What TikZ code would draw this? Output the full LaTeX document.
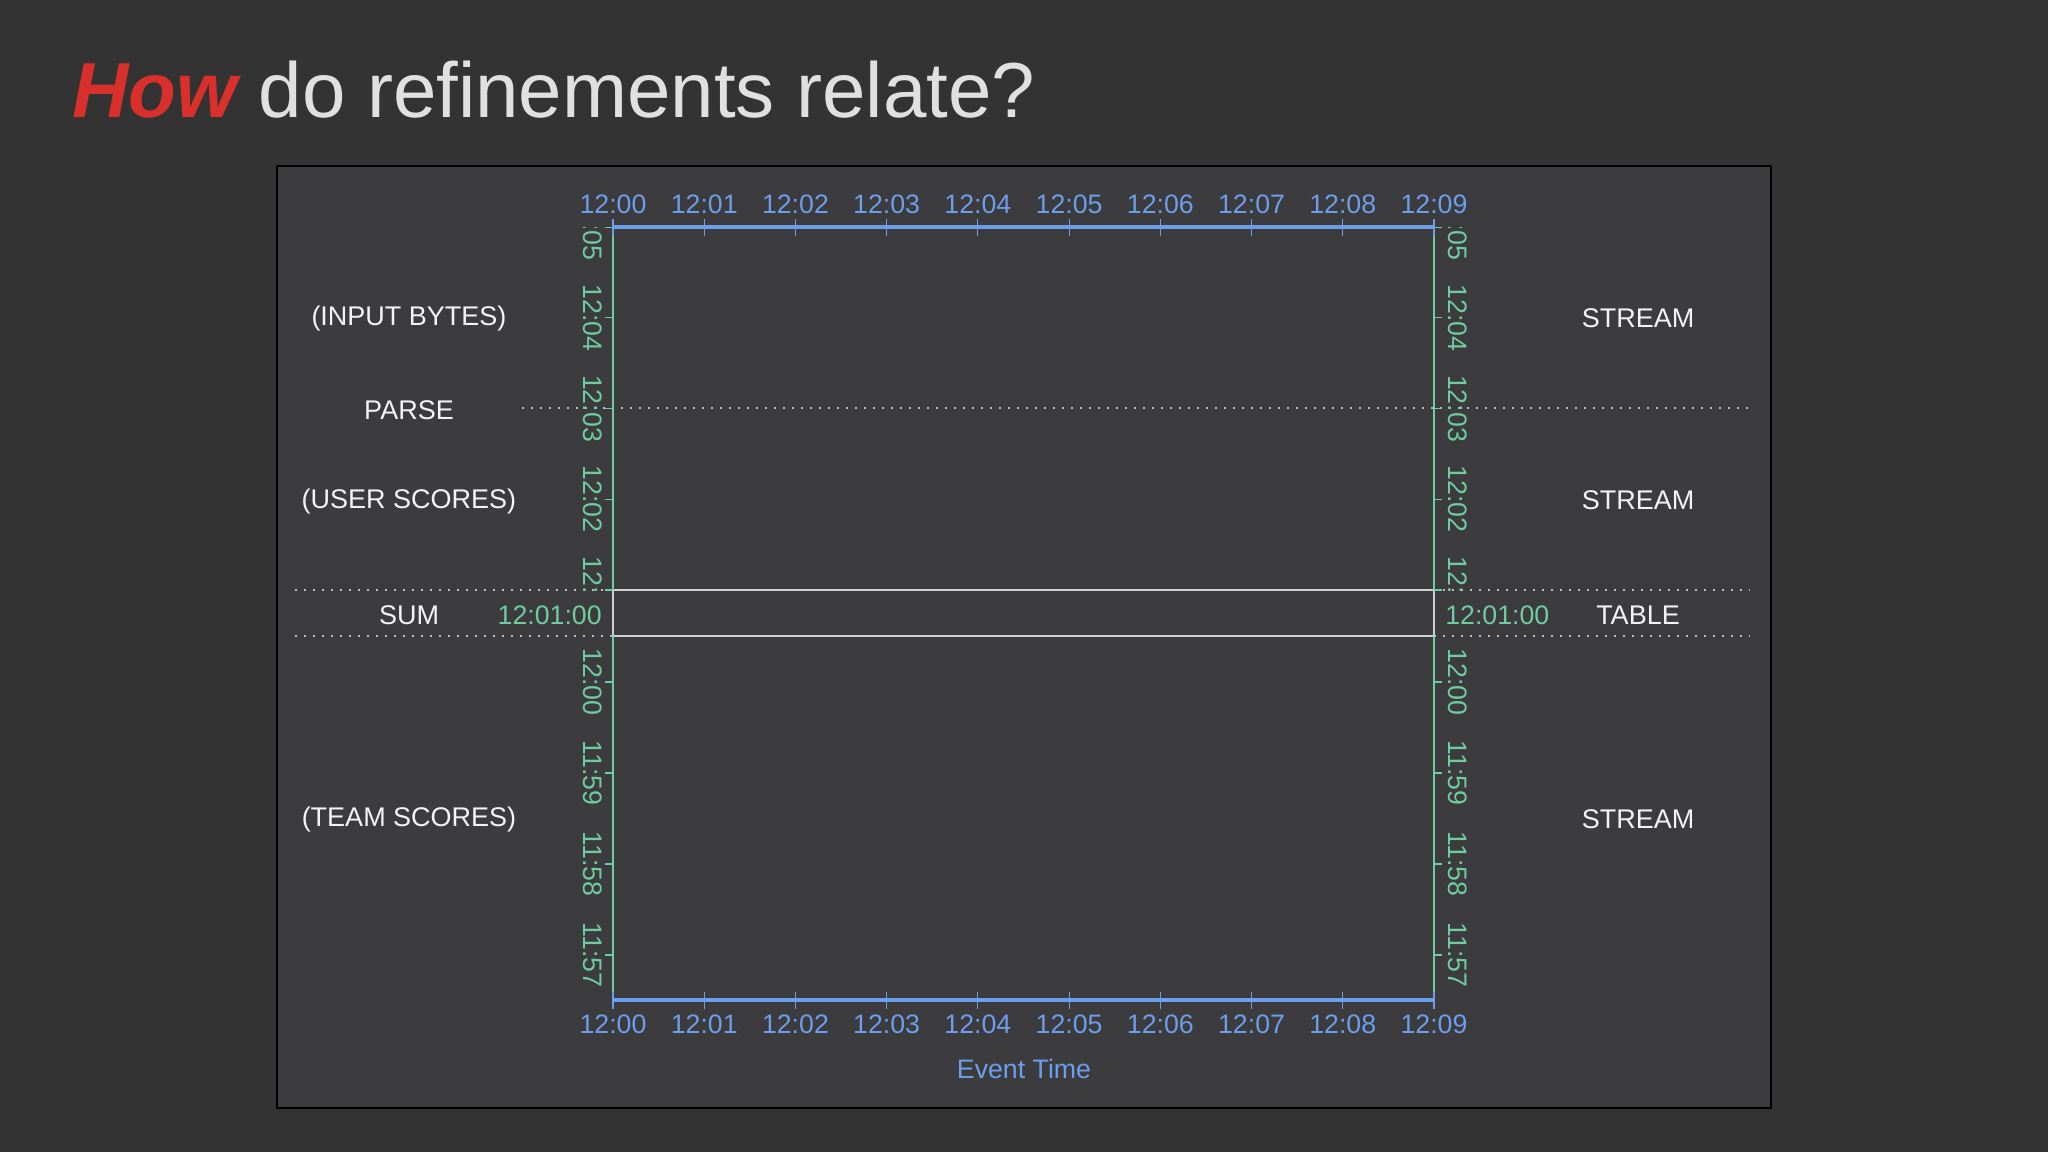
\documentclass[tikz,border=0pt]{standalone}
\usepackage{fontspec}
\setmainfont{Liberation Sans}

\definecolor{bgdark}{HTML}{333333}
\definecolor{panelgray}{HTML}{3C3B3D}
\definecolor{axisblue}{HTML}{6D9EEB}
\definecolor{axisgreen}{HTML}{6FCBA0}
\definecolor{howred}{HTML}{D9302C}
\definecolor{titlegray}{HTML}{E0E0E0}
\definecolor{labelwhite}{HTML}{F3F3F3}
\definecolor{dotgray}{HTML}{BDBDBD}
\definecolor{boxgray}{HTML}{CFCFCF}

\begin{document}
\begin{tikzpicture}[x=0.025cm, y=-0.025cm,
  lbl/.style={text=labelwhite, font=\fontsize{19.2}{22}\selectfont, inner sep=0pt, text height=0.72em, text depth=0pt},
  tick/.style={font=\fontsize{19}{22}\selectfont, inner sep=0pt, text height=0.72em, text depth=0pt},
  xtick/.style={tick, text=axisblue},
  ytick/.style={tick, text=axisgreen, rotate=-90},
  dots/.style={dotgray, line width=1.4pt, dash pattern=on 1.4pt off 5pt},
  xaxis/.style={axisblue, line width=3.5pt},
  yaxis/.style={axisgreen, line width=1.8pt}]
  % Background and panel
  \fill[bgdark] (0,0) rectangle (2048,1152);
  \draw[fill=panelgray, draw=black, line width=2pt] (277,166) rectangle (1771,1108);
  \node[anchor=base west, inner sep=0pt, text=titlegray, font=\fontsize{55.5}{60}\selectfont] (title) at (72,117)
    {\textcolor{howred}{\bfseries\itshape How} do refinements relate?};
  % Corners
  \coordinate (tl) at (613,227);
  \coordinate (tr) at (1434,227);
  \coordinate (bl) at (613,1000);
  \coordinate (br) at (1434,1000);
  \coordinate (sumtl) at (613,590);
  \coordinate (sumtr) at (1434,590);
  \coordinate (sumbl) at (613,636);
  \coordinate (sumbr) at (1434,636);
  % Separators
  \draw[dots] (522,408) -- (1750,408);
  \draw[dots] (295,590) -- (sumtl);
  \draw[dots] (sumtr) -- (1750,590);
  \draw[dots] (295,636) -- (sumbl);
  \draw[dots] (sumbr) -- (1750,636);
  \draw[boxgray, line width=0.9pt] (sumtl) rectangle (sumbr);
  % Row labels
  \node[lbl] (inbytes) at (409,320) {(INPUT BYTES)};
  \node[lbl] (parse) at (409,414) {PARSE};
  \node[lbl] (userscores) at (409,503) {(USER SCORES)};
  \node[lbl] (sum) at (409,619) {SUM};
  \node[lbl] (teamscores) at (409,821) {(TEAM SCORES)};
  \node[lbl] (stream1) at (1638,322) {STREAM};
  \node[lbl] (stream2) at (1638,504) {STREAM};
  \node[lbl] (table) at (1638,619) {TABLE};
  \node[lbl] (stream3) at (1638,823) {STREAM};
  \node[tick, text=axisgreen, anchor=east] (sumleft) at (602,619) {12:01:00};
  \node[tick, text=axisgreen, anchor=west] (sumright) at (1445,619) {12:01:00};
  % Processing-time axes
  \draw[yaxis] (tl) -- (sumtl);
  \draw[yaxis] (sumbl) -- (bl);
  \draw[yaxis] (tr) -- (sumtr);
  \draw[yaxis] (sumbr) -- (br);
  \begin{scope}
    \clip (540,227) rectangle (1510,590);
    \foreach \t [count=\k from 0] in {12:05,12:04,12:03,12:02,12:01} {
      \draw[axisgreen, line width=0.8pt] (605,227+90.75*\k) -- (613,227+90.75*\k);
      \draw[axisgreen, line width=0.8pt] (1434,227+90.75*\k) -- (1442,227+90.75*\k);
      \node[ytick] (ytl\k) at (589,227+90.75*\k) {\t};
      \node[ytick] (ytr\k) at (1454,227+90.75*\k) {\t};
    }
  \end{scope}
  \foreach \t [count=\k from 0] in {12:00,11:59,11:58,11:57} {
    \draw[axisgreen, line width=0.8pt] (605,682+91*\k) -- (613,682+91*\k);
    \draw[axisgreen, line width=0.8pt] (1434,682+91*\k) -- (1442,682+91*\k);
    \node[ytick] (ybl\k) at (589,682+91*\k) {\t};
    \node[ytick] (ybr\k) at (1454,682+91*\k) {\t};
  }
  % Event-time axes
  \draw[xaxis] (tl) -- (tr);
  \draw[xaxis] (bl) -- (br);
  \foreach \k in {0,...,9} {
    \draw[axisblue, line width=0.8pt] (613+91.22*\k,219) -- (613+91.22*\k,236);
    \draw[axisblue, line width=0.8pt] (613+91.22*\k,992) -- (613+91.22*\k,1009);
    \node[xtick] (xt\k) at (613+91.22*\k,208) {12:0\k};
    \node[xtick] (xb\k) at (613+91.22*\k,1028) {12:0\k};
  }
  \node[xtick] (evtime) at (1024,1073) {Event Time};
\end{tikzpicture}
\end{document}
